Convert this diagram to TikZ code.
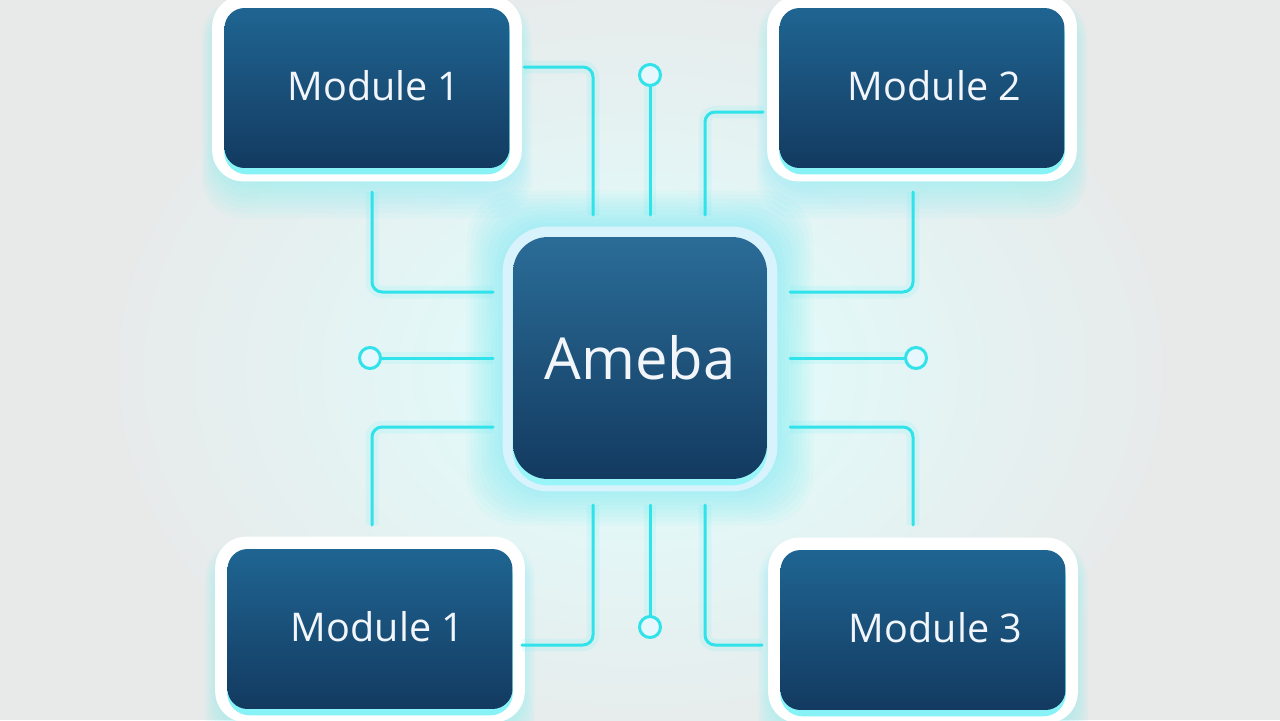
\documentclass[tikz,border=0pt]{standalone}
\usepackage{fontspec}
\setmainfont{Open Sans}
\usetikzlibrary{calc,backgrounds}
\pgfdeclarelayer{bglayer}
\pgfsetlayers{bglayer,background,main}
\definecolor{bg}{HTML}{E8E9E9}
\definecolor{wire}{HTML}{30E2EA}
\definecolor{boxtop}{HTML}{1F6592}
\definecolor{boxbot}{HTML}{133A60}
\definecolor{glowc}{HTML}{55EEF4}
\definecolor{txt}{HTML}{F2F6FA}
\begin{document}
\begin{tikzpicture}[x=0.02cm,y=-0.02cm,
  modbox/.style={rounded corners=0.4cm, minimum width=5.7cm, minimum height=3.2cm,
    top color=boxtop, bottom color=boxbot, text=txt, inner sep=0pt, text depth=0.12cm,
    font=\fontsize{22.5}{26}\selectfont},
  corebox/.style={rounded corners=0.7cm, minimum width=5.08cm, minimum height=4.84cm,
    top color=boxtop!95!white, bottom color=boxbot, text=txt, inner sep=0pt,
    font=\fontsize{33}{40}\selectfont},
  wireline/.style={draw=wire, line width=0.06cm, rounded corners=0.2cm, line cap=round},
  wireglow/.style={draw=glowc, line width=0.25cm, opacity=0.12, rounded corners=0.2cm},
  pin/.style={circle, draw=wire, line width=0.06cm, minimum size=0.42cm, inner sep=0pt, fill=white!90!cyan}
]
\useasboundingbox (0,0) rectangle (1280,720);

% nodes
\node[modbox] (m1) at (367,88) {\hspace*{0.28cm}Module 1};
\node[modbox] (m2) at (922,88) {\hspace*{0.5cm}Module 2};
\node[modbox] (m3) at (370,629) {\hspace*{0.3cm}Module 1};
\node[modbox] (m4) at (923,630) {\hspace*{0.5cm}Module 3};
\node[corebox] (core) at (640,358) {Ameba};

% background and glows
\begin{pgfonlayer}{bglayer}
  \fill[bg] (0,0) rectangle (1280,720);
  \shade[inner color=cyan!12!white, outer color=bg] (640,370) ellipse [x radius=560, y radius=420];
  \foreach \i in {1,...,10}{
    \fill[glowc, opacity=0.05, rounded corners=1cm]
      ($(core.north west)+(-6-\i*4,-6-\i*4)$) rectangle ($(core.south east)+(6+\i*4,6+\i*4)$);
  }
  \foreach \m in {m1,m2,m3,m4}{
    \foreach \i in {1,...,8}{
      \fill[glowc, opacity=0.05, rounded corners=0.8cm]
        ($(\m.north west)+(-6-\i*2,-2-\i)$) rectangle ($(\m.south east)+(6+\i*2,10+\i*5)$);
    }
  }
\end{pgfonlayer}
\begin{pgfonlayer}{background}
  \foreach \m in {m1,m2,m3,m4}{
    \fill[white, rounded corners=0.62cm]
      ($(\m.north west)+(-12,-12)$) rectangle ($(\m.south east)+(12,13)$);
    \fill[glowc!70!white, rounded corners=0.45cm]
      ($(\m.north west)+(0,4)$) rectangle ($(\m.south east)+(0,6)$);
  }
  \fill[white!85!cyan, rounded corners=0.9cm]
    ($(core.north west)+(-10,-10)$) rectangle ($(core.south east)+(10,12)$);
  \fill[glowc!60!white, rounded corners=0.7cm]
    ($(core.north west)+(0,4)$) rectangle ($(core.south east)+(0,6)$);
\end{pgfonlayer}

% wire end points
\coordinate (a0) at (524,67);  \coordinate (a1) at (593,67);  \coordinate (a2) at (593,215);
\coordinate (c0) at (763,112); \coordinate (c1) at (705,112); \coordinate (c2) at (705,215);
\coordinate (b2) at (650,215);
\coordinate (d0) at (372,192); \coordinate (d1) at (372,292); \coordinate (d2) at (493,292);
\coordinate (e0) at (913,192); \coordinate (e1) at (913,292); \coordinate (e2) at (790,292);
\coordinate (f2) at (493,358); \coordinate (g2) at (790,358);
\coordinate (h0) at (493,427); \coordinate (h1) at (372,427); \coordinate (h2) at (372,525);
\coordinate (i0) at (790,427); \coordinate (i1) at (913,427); \coordinate (i2) at (913,525);
\coordinate (j0) at (593,505); \coordinate (j1) at (593,645); \coordinate (j2) at (522,645);
\coordinate (k0) at (650,505);
\coordinate (l0) at (705,505); \coordinate (l1) at (705,645); \coordinate (l2) at (762,645);

% pins
\node[pin] (pt) at (650,75) {};
\node[pin] (pl) at (370,358) {};
\node[pin] (pr) at (916,358) {};
\node[pin] (pb) at (650,627) {};

\begin{pgfonlayer}{background}
  \foreach \p in {{(a0)--(a1)--(a2)},{(c0)--(c1)--(c2)},{(d0)--(d1)--(d2)},{(e0)--(e1)--(e2)},
                  {(h0)--(h1)--(h2)},{(i0)--(i1)--(i2)},{(j0)--(j1)--(j2)},{(l0)--(l1)--(l2)},
                  {(pt)--(b2)},{(pl)--(f2)},{(pr)--(g2)},{(k0)--(pb)}}{
    \draw[wireglow] \p;
  }
\end{pgfonlayer}

\draw[wireline] (a0) -- (a1) -- (a2);
\draw[wireline] (c0) -- (c1) -- (c2);
\draw[wireline] (d0) -- (d1) -- (d2);
\draw[wireline] (e0) -- (e1) -- (e2);
\draw[wireline] (h0) -- (h1) -- (h2);
\draw[wireline] (i0) -- (i1) -- (i2);
\draw[wireline] (j0) -- (j1) -- (j2);
\draw[wireline] (l0) -- (l1) -- (l2);
\draw[wireline] (pt) -- (b2);
\draw[wireline] (pl) -- (f2);
\draw[wireline] (pr) -- (g2);
\draw[wireline] (k0) -- (pb);
\end{tikzpicture}
\end{document}
